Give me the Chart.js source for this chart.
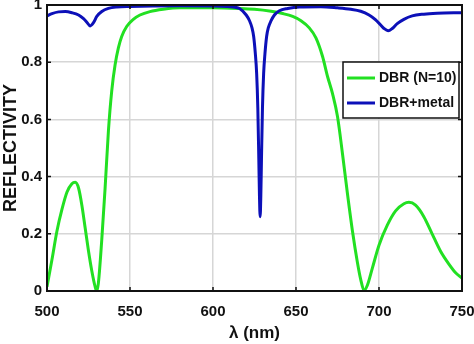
<!DOCTYPE html>
<html>
<head>
<meta charset="utf-8">
<script src="https://cdn.jsdelivr.net/npm/chart.js@4.4.1/dist/chart.umd.min.js"></script>
<style>
  html, body { margin: 0; padding: 0; background: #fff; }
  #wrap { width: 474px; height: 344px; }
</style>
</head>
<body>
<div id="wrap"><canvas id="reflChart" width="474" height="344"></canvas></div>
<script>
// Wavelength grid (nm) and reflectivity for the bare DBR (N=10)
const dbrWavelength = [
  500, 503, 506, 509, 512, 515, 517, 519, 521, 523, 525, 527, 529, 530, 531, 533,
  535, 537, 539, 541, 543, 545, 548, 552, 556, 562, 570, 580, 600, 615, 625, 635,
  642, 648, 653, 658, 662, 666, 669, 672, 675, 678, 681, 684, 687, 689, 691, 693,
  696, 700, 705, 710, 715, 718, 722, 727, 732, 737, 742, 746, 750
];
const dbrReflectivity = [
  0.015, 0.11, 0.21, 0.285, 0.345, 0.375, 0.38, 0.36, 0.30, 0.22, 0.14, 0.07, 0.015, 0.0, 0.03, 0.18,
  0.36, 0.56, 0.70, 0.79, 0.85, 0.89, 0.925, 0.95, 0.965, 0.977, 0.985, 0.99, 0.99, 0.988, 0.985, 0.978,
  0.97, 0.96, 0.945, 0.92, 0.885, 0.82, 0.75, 0.69, 0.61, 0.48, 0.34, 0.21, 0.10, 0.04, 0.002, 0.02,
  0.08, 0.16, 0.23, 0.28, 0.305, 0.31, 0.30, 0.26, 0.20, 0.14, 0.095, 0.065, 0.045
];

// Wavelength grid (nm) and reflectivity for DBR + metal
const metalWavelength = [
  500, 503, 507, 511, 515, 519, 522, 524, 526, 528, 530, 533, 537, 542, 550, 580,
  605, 612, 616, 620, 622, 623.5, 624.5, 625.5, 626.3, 627, 627.6, 628, 628.4, 628.8, 629.2, 629.8,
  630.5, 631.3, 632.3, 633.3, 635, 637, 640, 645, 652, 665, 675, 683, 689, 694,
  698, 701, 703, 705.5, 708, 711, 715, 720, 727, 735, 750
];
const metalReflectivity = [
  0.962, 0.97, 0.976, 0.977, 0.973, 0.965, 0.952, 0.94, 0.927, 0.938, 0.96, 0.977, 0.988, 0.993, 0.995, 0.997,
  0.996, 0.993, 0.988, 0.965, 0.945, 0.92, 0.89, 0.83, 0.76, 0.64, 0.46, 0.33, 0.26, 0.33, 0.46, 0.64,
  0.76, 0.83, 0.89, 0.92, 0.945, 0.965, 0.98, 0.988, 0.993, 0.994, 0.99, 0.985, 0.978, 0.965,
  0.948, 0.93, 0.918, 0.91, 0.918, 0.935, 0.95, 0.962, 0.968, 0.971, 0.973
];

const seriesLabels = ["DBR (N=10)", "DBR+metal"];
const seriesColors = ["#22e022", "#0c10b8"];

const toPoints = (xs, ys) => xs.map((x, i) => ({ x: x, y: ys[i] }));

const FONT = "'Liberation Sans', Arial, sans-serif";

// box around the plot with inward tick marks on all four sides
const boxPlugin = {
  id: "box",
  afterDatasetsDraw(chart) {
    const { ctx, chartArea: a, scales } = chart;
    ctx.save();
    ctx.strokeStyle = "#111";
    ctx.lineWidth = 1.5;
    const len = 4;
    ctx.beginPath();
    scales.x.ticks.forEach(t => {
      const px = scales.x.getPixelForValue(t.value);
      ctx.moveTo(px, a.bottom); ctx.lineTo(px, a.bottom - len);
      ctx.moveTo(px, a.top); ctx.lineTo(px, a.top + len);
    });
    scales.y.ticks.forEach(t => {
      const py = scales.y.getPixelForValue(t.value);
      ctx.moveTo(a.left, py); ctx.lineTo(a.left + len, py);
      ctx.moveTo(a.right, py); ctx.lineTo(a.right - len, py);
    });
    ctx.stroke();
    ctx.lineWidth = 2;
    ctx.strokeRect(a.left, a.top, a.right - a.left, a.bottom - a.top);
    ctx.restore();
  }
};

// legend box in the upper right of the plot
const legendPlugin = {
  id: "boxLegend",
  afterDraw(chart) {
    const { ctx, chartArea: a } = chart;
    const w = 116, h = 56;
    const x0 = a.right - w - 3, y0 = a.top + 57;
    ctx.save();
    ctx.fillStyle = "#fff";
    ctx.fillRect(x0, y0, w, h);
    ctx.strokeStyle = "#111";
    ctx.lineWidth = 1.5;
    ctx.strokeRect(x0, y0, w, h);
    ctx.font = "bold 14px " + FONT;
    ctx.textBaseline = "middle";
    ctx.fillStyle = "#111";
    chart.data.datasets.forEach((ds, i) => {
      const y = y0 + 16 + i * 25;
      ctx.strokeStyle = ds.borderColor;
      ctx.lineWidth = 3;
      ctx.beginPath();
      ctx.moveTo(x0 + 4, y);
      ctx.lineTo(x0 + 32, y);
      ctx.stroke();
      ctx.fillText(ds.label, x0 + 36, y);
    });
    ctx.restore();
  }
};

new Chart(document.getElementById("reflChart"), {
  type: "line",
  data: {
    datasets: [
      {
        label: seriesLabels[0],
        data: toPoints(dbrWavelength, dbrReflectivity),
        borderColor: seriesColors[0],
        borderWidth: 3,
        pointRadius: 0,
        cubicInterpolationMode: "monotone",
        order: 2
      },
      {
        label: seriesLabels[1],
        data: toPoints(metalWavelength, metalReflectivity),
        borderColor: seriesColors[1],
        borderWidth: 3,
        pointRadius: 0,
        cubicInterpolationMode: "monotone",
        order: 1
      }
    ]
  },
  options: {
    responsive: false,
    animation: false,
    layout: { padding: { top: 5, right: 12, left: 0, bottom: 0 } },
    plugins: {
      legend: { display: false },
      tooltip: { enabled: false }
    },
    scales: {
      x: {
        type: "linear",
        min: 500,
        max: 750,
        // fixed axis band; let the last label run past the plot edge
        afterFit: s => { s.height = 53; s.paddingLeft = 0; s.paddingRight = 0; },
        ticks: {
          stepSize: 50,
          padding: 12,
          color: "#111",
          font: { family: FONT, size: 15, weight: "bold" }
        },
        grid: { color: "#d6d6d6", lineWidth: 1.5, drawTicks: false },
        border: { display: false },
        title: {
          display: true,
          text: "λ (nm)",
          color: "#111",
          padding: 0,
          font: { family: FONT, size: 17, weight: "bold" }
        }
      },
      y: {
        min: 0,
        max: 1,
        afterFit: s => { s.width = 47; s.paddingTop = 0; s.paddingBottom = 0; },
        ticks: {
          stepSize: 0.2,
          padding: 5,
          color: "#111",
          font: { family: FONT, size: 15, weight: "bold" },
          // plain "0" and "1" at the ends, one decimal elsewhere
          callback: v => (v === 0 || v === 1) ? String(v) : v.toFixed(1)
        },
        grid: { color: "#d6d6d6", lineWidth: 1.5, drawTicks: false },
        border: { display: false },
        title: {
          display: true,
          text: "REFLECTIVITY",
          color: "#111",
          padding: 0,
          font: { family: FONT, size: 18, weight: "bold" }
        }
      }
    }
  },
  plugins: [boxPlugin, legendPlugin]
});
</script>
</body>
</html>
